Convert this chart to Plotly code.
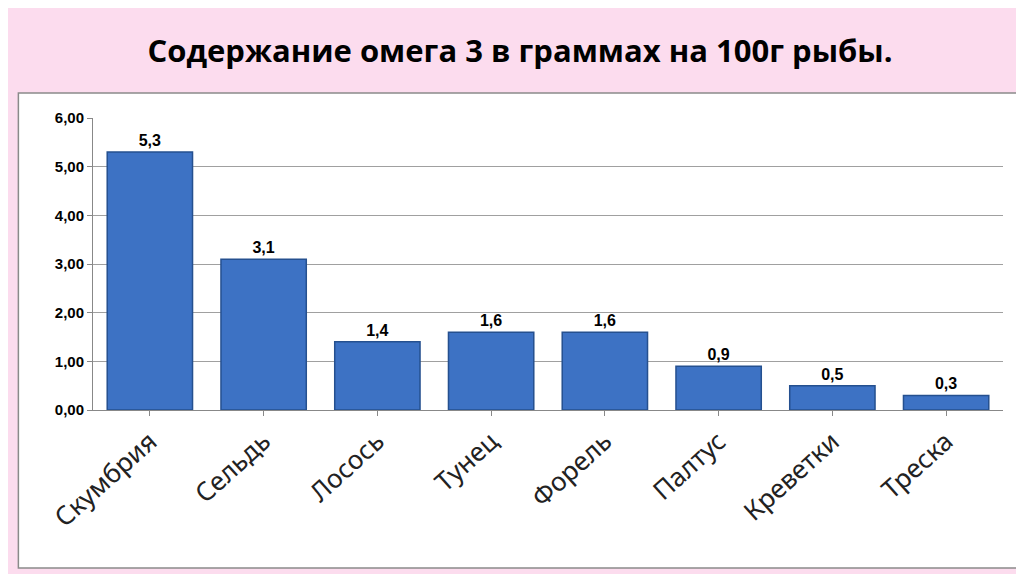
import plotly.graph_objects as go

fish = ["Скумбрия", "Сельдь", "Лосось", "Тунец", "Форель", "Палтус", "Креветки", "Треска"]
omega3 = [5.3, 3.1, 1.4, 1.6, 1.6, 0.9, 0.5, 0.3]
labels = ["<b>5,3</b>", "<b>3,1</b>", "<b>1,4</b>", "<b>1,6</b>", "<b>1,6</b>", "<b>0,9</b>", "<b>0,5</b>", "<b>0,3</b>"]
yticks = [0, 1, 2, 3, 4, 5, 6]
ytick_text = ["<b>0,00</b>", "<b>1,00</b>", "<b>2,00</b>", "<b>3,00</b>", "<b>4,00</b>", "<b>5,00</b>", "<b>6,00</b>"]

fig = go.Figure(go.Bar(
    x=fish, y=omega3, text=labels, textposition="outside",
    textfont=dict(size=16, color="black", family="Liberation Sans"),
    marker=dict(color="#3d72c4", line=dict(color="#25508f", width=1.5)),
    cliponaxis=False,
))

# white chart frame
fig.add_shape(type="rect", xref="paper", yref="paper",
              x0=-0.082, x1=1.016, y0=-0.541, y1=1.086,
              fillcolor="white", line=dict(color="#8a8a8a", width=1.5), layer="below")

fig.update_layout(
    width=1024, height=574,
    paper_bgcolor="#fcdcee", plot_bgcolor="white",
    margin=dict(l=85, r=29, t=110, b=172),
    bargap=0.25, showlegend=False,
    title=dict(text="<b>Содержание омега 3 в граммах на 100г рыбы.</b>",
               x=0.5, y=0.925, xanchor="center", yanchor="middle",
               font=dict(size=31, color="black", family="Open Sans")),
    font=dict(family="Liberation Sans", color="black"),
)
fig.update_xaxes(tickangle=-42, tickfont=dict(size=26, color="#222", family="Noto Sans"),
                 showline=True, linecolor="#888", ticks="outside", tickcolor="#888",
                 automargin=False)
fig.update_yaxes(range=[0, 6], tickvals=yticks, ticktext=ytick_text,
                 tickfont=dict(size=15, color="black", family="Liberation Sans"),
                 gridcolor="#a0a0a0", showline=True, linecolor="#888",
                 ticks="outside", tickcolor="#888", zeroline=False, automargin=False)

fig.write_html("out.html")
